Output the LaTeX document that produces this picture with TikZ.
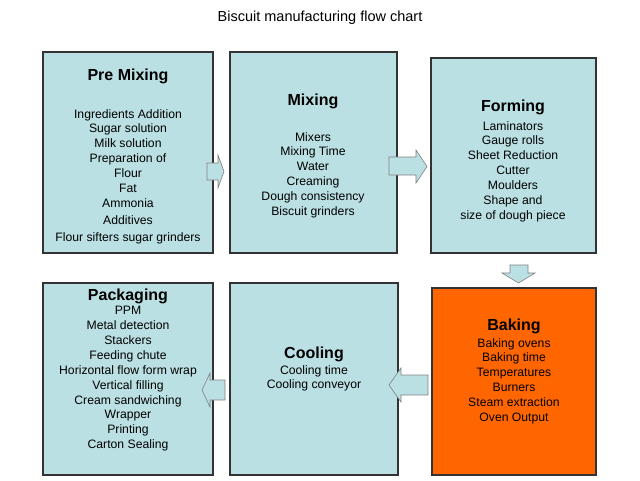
\documentclass[tikz,border=0pt]{standalone}
\usepackage{fontspec}
\setmainfont{Liberation Sans}
\definecolor{boxblue}{RGB}{187,224,227}
\definecolor{bakeor}{RGB}{255,102,0}
\begin{document}
\begin{tikzpicture}[x=1pt,y=-1pt,
  box/.style={draw=black!80,line width=1.2pt,fill=boxblue},
  hd/.style={font=\fontsize{16}{18}\selectfont\bfseries,inner sep=0pt},
  it/.style={font=\fontsize{12.2}{14.9}\selectfont,align=center,inner sep=0pt,anchor=north},
  barrow/.style={draw=gray,line width=0.6pt,fill=boxblue}]
\useasboundingbox (0,0) rectangle (640,480);
\node[font=\fontsize{14.5}{17}\selectfont] (title) at (320,18) {Biscuit manufacturing flow chart};
% boxes
\draw[box] (43,52) rectangle (213,253);
\draw[box] (230,52) rectangle (397,253);
\draw[box] (431,58) rectangle (596,253);
\draw[box,fill=bakeor] (432,288) rectangle (596,475);
\draw[box] (230,283) rectangle (398,475);
\draw[box] (43,283) rectangle (213,475);
% texts
\node[hd] (h1) at (128,76) {Pre Mixing};
\node[it] (t1) at (128,109) {Ingredients Addition\\Sugar solution\\Milk solution\\Preparation of\\Flour\\Fat\\Ammonia\\[2pt]Additives\\[2pt]Flour sifters sugar grinders};
\node[hd] (h2) at (313,101) {Mixing};
\node[it] (t2) at (313,132) {Mixers\\Mixing Time\\Water\\Creaming\\Dough consistency\\Biscuit grinders};
\node[hd] (h3) at (513,107) {Forming};
\node[it] (t3) at (513,121) {Laminators\\Gauge rolls\\Sheet Reduction\\Cutter\\Moulders\\Shape and\\size of dough piece};
\node[hd] (h4) at (514,326) {Baking};
\node[it] (t4) at (514,338) {Baking ovens\\Baking time\\Temperatures\\Burners\\Steam extraction\\Oven Output};
\node[hd] (h5) at (314,354) {Cooling};
\node[it] (t5) at (314,365) {Cooling time\\Cooling conveyor};
\node[hd] (h6) at (128,296) {Packaging};
\node[it] (t6) at (128,306) {PPM\\Metal detection\\Stackers\\Feeding chute\\Horizontal flow form wrap\\Vertical filling\\Cream sandwiching\\Wrapper\\Printing\\Carton Sealing};
% block arrows
\draw[barrow] (207,163) -- (218,163) -- (218,155) -- (224,171.5) -- (218,188) -- (218,180) -- (207,180) -- cycle;
\draw[barrow] (389,157) -- (416,157) -- (416,150) -- (427,166.5) -- (416,183) -- (416,175) -- (389,175) -- cycle;
\draw[barrow] (510,265) -- (528,265) -- (528,273) -- (535,273) -- (518.5,283) -- (502,273) -- (510,273) -- cycle;
\draw[barrow] (428,375) -- (401,375) -- (401,368) -- (389,385) -- (401,402) -- (401,395) -- (428,395) -- cycle;
\draw[barrow] (225,380) -- (210,380) -- (210,373) -- (202,390) -- (210,407) -- (210,400) -- (225,400) -- cycle;
\end{tikzpicture}
\end{document}
